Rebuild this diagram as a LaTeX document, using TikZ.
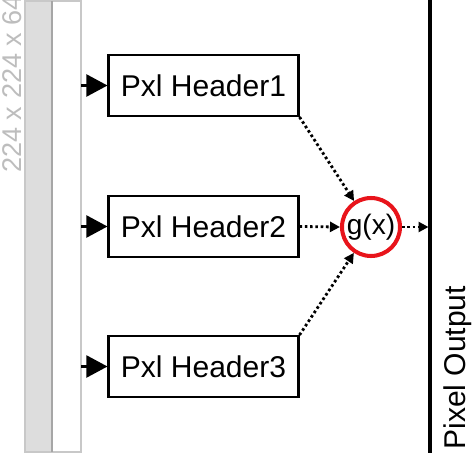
\documentclass[tikz,border=0pt]{standalone}
\usepackage{fontspec}
\setmainfont{Liberation Sans}
\usetikzlibrary{arrows.meta}
\definecolor{bargray}{HTML}{DDDDDD}
\definecolor{barline}{HTML}{C8C8C8}
\definecolor{dimgraytext}{HTML}{BDBDBD}
\definecolor{gred}{HTML}{E8141B}
\tikzset{
    header/.style={draw, line width=1.2pt, minimum width=3.8cm, minimum height=1.22cm, inner sep=0pt, font=\fontsize{17.1}{20}\selectfont},
    inarrow/.style={line width=1.2pt, -{Triangle[length=0.42cm, width=0.44cm]}},
    dotarrow/.style={line width=1.6pt, dash pattern=on 1.5pt off 1.5pt, -{Triangle[length=0.2cm, width=0.2cm]}},
    gnode/.style={circle, draw=gred, line width=2.3pt, minimum size=1.16cm, inner sep=0pt, font=\fontsize{16}{19}\selectfont}
}
\begin{document}
\begin{tikzpicture}[x=0.02cm, y=-0.02cm]
    \useasboundingbox (0,0) rectangle (473,453);

    % Feature map bars
    \draw[barline, fill=bargray, line width=0.8pt] (25,1) rectangle (52,452);
    \draw[barline, fill=white, line width=0.8pt] (52,1) rectangle (81,452);
    \draw[gray!70, line width=0.8pt] (52,1) -- (52,452);
    \node[dimgraytext, rotate=90, anchor=base west, inner sep=0pt, font=\fontsize{15.4}{20}\selectfont] (dims) at (21,173) {224 x 224 x 64};

    % Pixel headers
    \node[header] (h1) at (203.5,85.5) {Pxl Header1};
    \node[header] (h2) at (203.5,226.5) {Pxl Header2};
    \node[header] (h3) at (203.5,366.5) {Pxl Header3};

    % Inputs
    \coordinate (in1) at (81,85.5);
    \coordinate (in2) at (81,226.5);
    \coordinate (in3) at (81,366.5);
    \draw[inarrow] (in1) -- (h1.west);
    \draw[inarrow] (in2) -- (h2.west);
    \draw[inarrow] (in3) -- (h3.west);

    % Combination
    \node[gnode] (g) at (371,227) {g(x)};
    \draw[dotarrow] (h1.south east) -- (g);
    \draw[dotarrow] (h2.east) -- (g.west);
    \draw[dotarrow] (h3.north east) -- (g);

    % Output
    \draw[line width=2.3pt] (430,0) -- (430,453);
    \coordinate (out) at (428.5,227);
    \draw[dotarrow] (g.east) -- (out);
    \node[rotate=90, anchor=base west, inner sep=0pt, font=\fontsize{17.1}{20}\selectfont] (pixout) at (465,450) {Pixel Output};
\end{tikzpicture}
\end{document}
